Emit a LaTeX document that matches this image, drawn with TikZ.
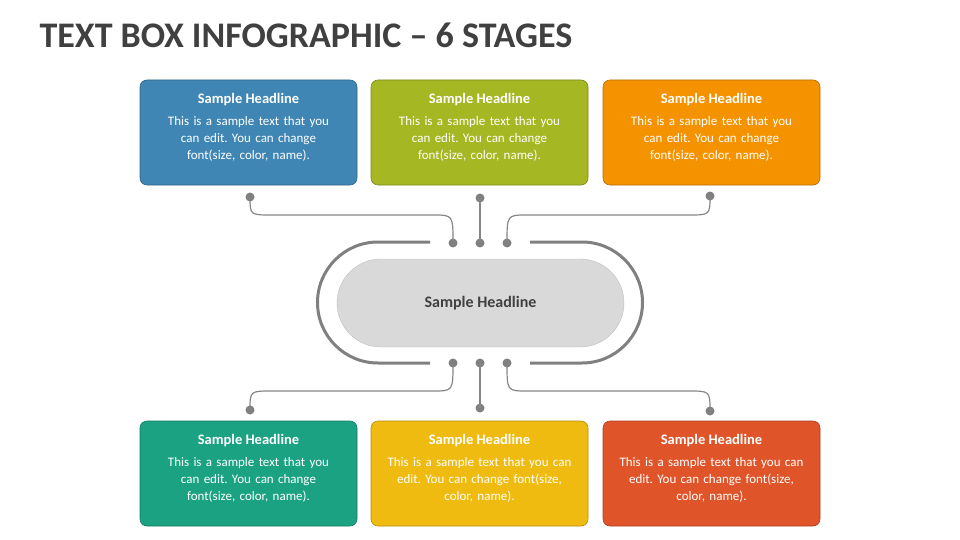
\documentclass[tikz,border=0pt]{standalone}
\usepackage{fontspec}
\setmainfont{Carlito}
\frenchspacing
\begin{document}
\begin{tikzpicture}[x=1pt,y=-1pt,
  card/.style={draw=#1!75!black, fill=#1, rounded corners=7pt, line width=0.6pt},
  conn/.style={draw=gray!95, line width=1.2pt},
  thick conn/.style={draw=gray, line width=3pt},
  dot/.style={circle, fill=gray, inner sep=0pt, minimum size=9pt},
  head/.style={text=white, font=\bfseries\fontsize{14.5}{16}\selectfont},
  body/.style={text=white, font=\fontsize{13}{17}\selectfont, align=center, text width=210pt}]
\useasboundingbox (0,0) rectangle (960,540);
\definecolor{cblue}{HTML}{3F86B4}
\definecolor{cgreen}{HTML}{A5B723}
\definecolor{corange}{HTML}{F59200}
\definecolor{cteal}{HTML}{1BA283}
\definecolor{cyellow}{HTML}{F0BB10}
\definecolor{cred}{HTML}{E0542A}
\definecolor{tgray}{HTML}{404040}
\node[anchor=west, text=tgray, font=\bfseries\fontsize{36}{40}\selectfont] (title) at (36,35) {TEXT BOX INFOGRAPHIC – 6 STAGES};
% cards
\foreach \n/\x/\y/\c/\t in {
 a/140/80/cblue/{This is a sample text that you\\can edit. You can change\\font(size, color, name).},
 b/371/80/cgreen/{This is a sample text that you\\can edit. You can change\\font(size, color, name).},
 c/603/80/corange/{This is a sample text that you\\can edit. You can change\\font(size, color, name).},
 d/140/421/cteal/{This is a sample text that you\\can edit. You can change\\font(size, color, name).},
 e/371/421/cyellow/{This is a sample text that you can\\edit. You can change font(size,\\color, name).},
 f/603/421/cred/{This is a sample text that you can\\edit. You can change font(size,\\color, name).}}{
  \path[card=\c] (\x,\y) rectangle ++(217,105);
  \node[head] (h\n) at (\x+108.5,\y+20) {Sample Headline};
  \node[body, anchor=north] (b\n) at (\x+108.5,\y+33) {\t};
}
% center
\node[draw=gray!50, fill=gray!30, rounded corners=44pt, minimum width=287pt, minimum height=88pt, font=\bfseries\fontsize{16}{18}\selectfont, text=tgray] (center) at (480.5,303) {Sample Headline};
\draw[thick conn] (430,242) -- (378,242) arc[start angle=270, end angle=90, radius=60.5] -- (430,363);
\draw[thick conn] (530,242) -- (582,242) arc[start angle=-90, end angle=90, radius=60.5] -- (530,363);
% dots
\foreach \n/\x/\y in {t1/250/197,t2/480/198,t3/710/196,m1/453/243,m2/480/243,m3/507/243,
  n1/453/363,n2/480/363,n3/507/363,u1/250/410,u2/480/408,u3/710/411}
  \node[dot] (\n) at (\x,\y) {};
\draw[conn] (t1.center) .. controls (250,215) .. (272,215) -- (433,215) .. controls (453,215) .. (m1.center);
\draw[conn] (t2.center) -- (m2.center);
\draw[conn] (t3.center) .. controls (710,215) .. (688,215) -- (527,215) .. controls (507,215) .. (m3.center);
\draw[conn] (u1.center) .. controls (250,391) .. (272,391) -- (433,391) .. controls (453,391) .. (n1.center);
\draw[conn] (u2.center) -- (n2.center);
\draw[conn] (u3.center) .. controls (710,391) .. (688,391) -- (527,391) .. controls (507,391) .. (n3.center);
\end{tikzpicture}
\end{document}
